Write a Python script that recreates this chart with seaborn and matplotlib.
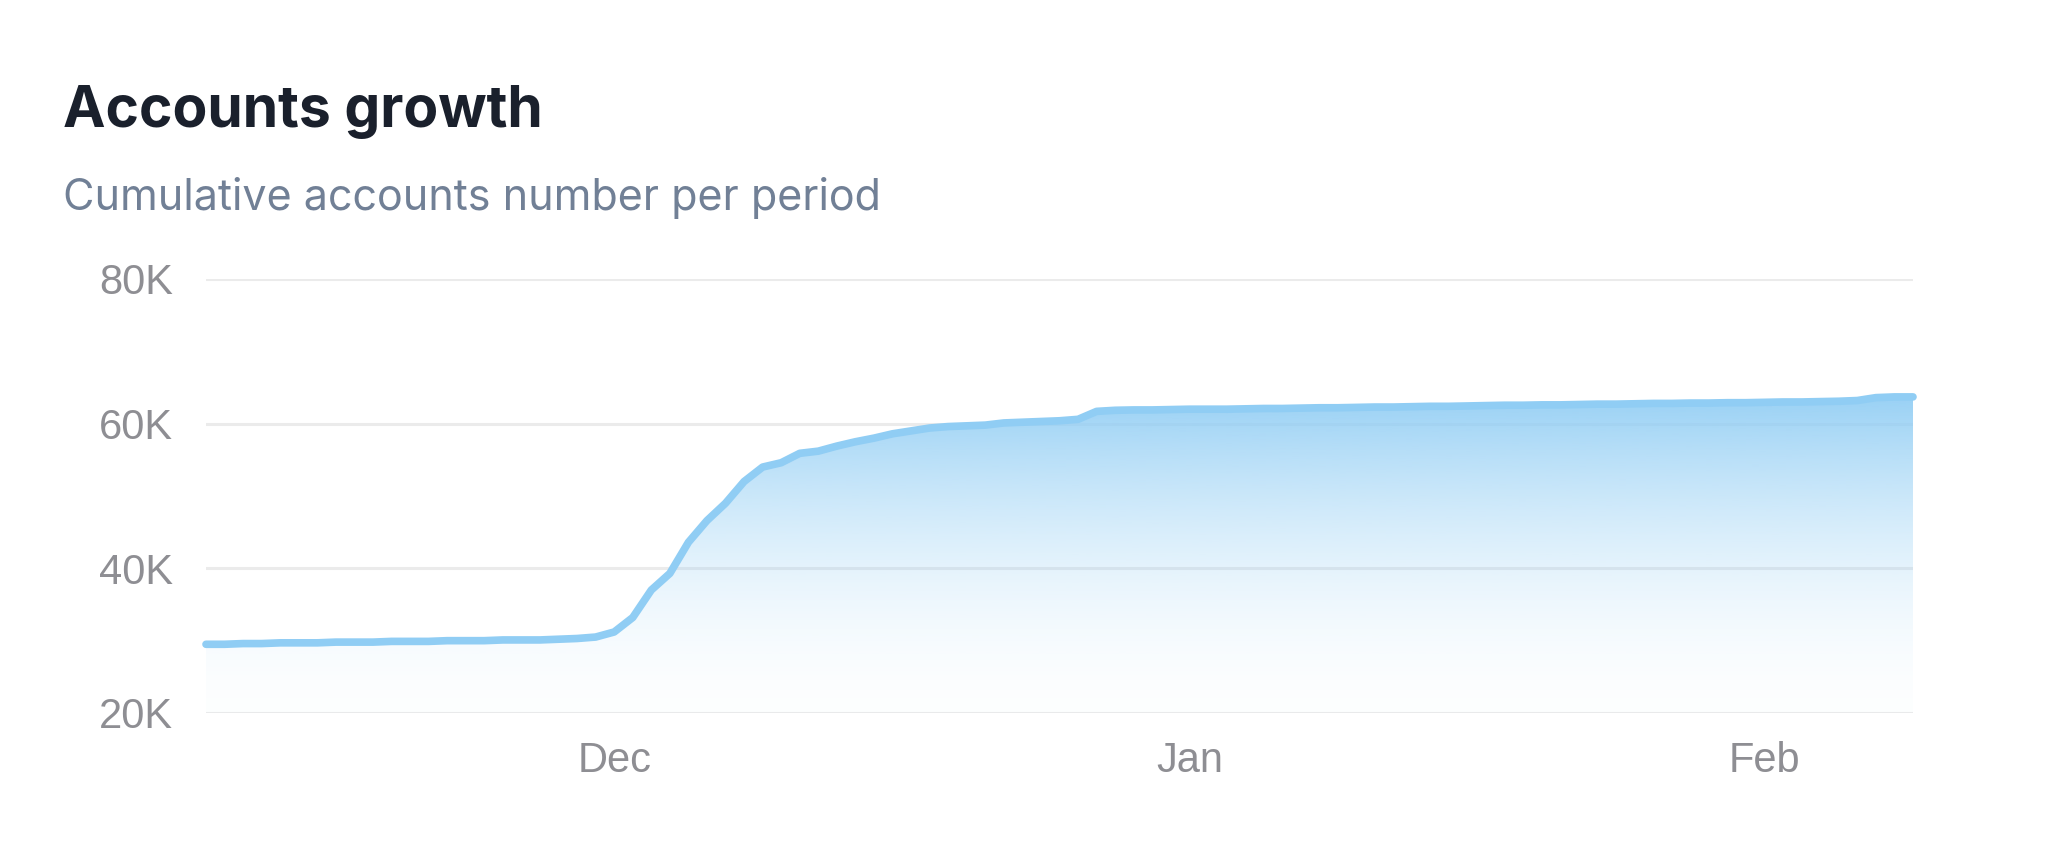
import matplotlib
matplotlib.use("Agg")
import matplotlib.pyplot as plt
import matplotlib.dates as mdates
import matplotlib.ticker as mticker
from matplotlib.colors import to_rgb
import seaborn as sns
import numpy as np
import pandas as pd

# Dados (contas acumuladas, em milhares), um ponto por dia
start_date = "2022-11-09"
end_date = "2023-02-09"
accounts_k = [
    29.5, 29.5, 29.6, 29.6, 29.7, 29.7, 29.7, 29.8, 29.8, 29.8,
    29.9, 29.9, 29.9, 30.0, 30.0, 30.0, 30.1, 30.1, 30.1, 30.2,
    30.3, 30.5, 31.2, 33.2, 37.0, 39.3, 43.6, 46.6, 49.0, 52.0,
    54.0, 54.6, 55.9, 56.2, 56.9, 57.5, 58.0, 58.6, 59.0, 59.4,
    59.6, 59.7, 59.8, 60.1, 60.2, 60.3, 60.4, 60.6, 61.7, 61.85,
    61.9, 61.9, 61.95, 62.0, 62.0, 62.0, 62.05, 62.1, 62.1, 62.15,
    62.2, 62.2, 62.25, 62.3, 62.3, 62.35, 62.4, 62.4, 62.45, 62.5,
    62.55, 62.55, 62.6, 62.6, 62.65, 62.7, 62.7, 62.75, 62.8, 62.8,
    62.85, 62.85, 62.9, 62.9, 62.95, 63.0, 63.0, 63.05, 63.1, 63.2,
    63.6, 63.7, 63.7,
]
y_ticks = [20000, 40000, 60000, 80000]

title = "Accounts growth"
subtitle = "Cumulative accounts number per period"

line_color = "#90CDF4"

dates = pd.date_range(start_date, end_date, freq="D")
df = pd.DataFrame({"date": dates, "accounts": np.array(accounts_k) * 1000})

sns.set_theme(style="white")
plt.rcParams["font.family"] = ["Inter", "DejaVu Sans"]

fig = plt.figure(figsize=(20.48, 8.48), dpi=100)
ax = fig.add_axes([206 / 2048, 135 / 848, (1913 - 206) / 2048, (713 - 279) / 848])

# Preenchimento com gradiente vertical recortado pela área sob a curva
x0 = mdates.date2num(dates[0])
x1 = mdates.date2num(dates[-1])
ytop = df["accounts"].max()
poly = ax.fill_between(mdates.date2num(dates), df["accounts"], 20000, color="none", lw=0)
n = 256
frac = np.linspace(0, 1, n)
rgba = np.zeros((n, 1, 4))
rgba[:, 0, :3] = to_rgb(line_color)
rgba[:, 0, 3] = 0.02 + 0.9 * frac ** 1.8
img = ax.imshow(rgba, extent=[x0, x1, 20000, ytop], aspect="auto", origin="lower",
                interpolation="bilinear", zorder=1)
img.set_clip_path(poly.get_paths()[0], transform=ax.transData)

sns.lineplot(data=df, x=mdates.date2num(dates), y="accounts", color=line_color, lw=5.5,
             ax=ax, zorder=3, clip_on=False, solid_capstyle="round", solid_joinstyle="round")

ax.set_xlim(x0, x1)
ax.set_ylim(20000, 80000)
ax.set_xlabel("")
ax.set_ylabel("")

ax.set_yticks(y_ticks)
ax.yaxis.set_major_formatter(mticker.FuncFormatter(lambda v, p: f"{int(v / 1000)}K"))
ax.xaxis.set_major_locator(mdates.MonthLocator())
ax.xaxis.set_major_formatter(mdates.DateFormatter("%b"))

ax.yaxis.grid(True, color="#ebebeb", lw=2.2, zorder=0)
ax.xaxis.grid(False)
ax.set_axisbelow(True)
for s in ax.spines.values():
    s.set_visible(False)

tick_font = ["Liberation Sans", "DejaVu Sans"]
ax.tick_params(axis="y", length=0, pad=24, labelsize=30, labelcolor="#8e8e93")
ax.tick_params(axis="x", length=0, pad=20, labelsize=30, labelcolor="#8e8e93")
for lab in ax.get_xticklabels() + ax.get_yticklabels():
    lab.set_family(tick_font)

fig.text(63 / 2048, 1 - 127 / 848, title, fontsize=41, fontweight="bold",
         color="#1a202c", va="baseline", ha="left")
fig.text(63 / 2048, 1 - 210 / 848, subtitle, fontsize=31, color="#718096",
         va="baseline", ha="left")

fig.savefig("out.png", dpi=100, facecolor="white")
